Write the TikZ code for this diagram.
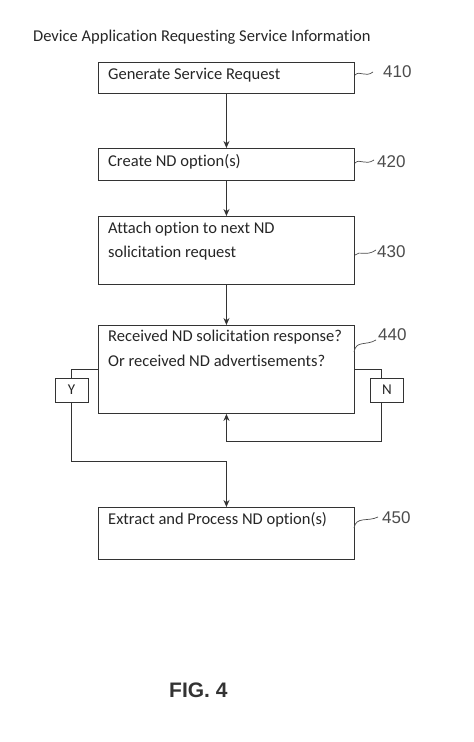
\documentclass[tikz,border=0pt]{standalone}
\usepackage{fontspec}
\setmainfont{Carlito}[RawFeature={-liga}]
\newfontfamily\figfont{Liberation Sans}
\newfontfamily\numfont{Liberation Sans}
\usetikzlibrary{arrows.meta}
\begin{document}
\begin{tikzpicture}[x=1pt,y=-1pt,
  ln/.style={draw=black!80, line width=0.9pt},
  box/.style={ln, rectangle, inner sep=0pt, anchor=north west, minimum width=256pt},
  smallbox/.style={ln, rectangle, inner sep=0pt, minimum width=33pt, minimum height=24pt, font=\fontsize{15}{17}\selectfont, text=black!85},
  txt/.style={anchor=west, inner sep=0pt, font=\fontsize{16.5}{19}\selectfont, text=black!85},
  arr/.style={ln, -{Stealth[length=7pt,width=6pt]}},
  num/.style={anchor=west, inner sep=0pt, font=\numfont\fontsize{17}{19}\selectfont, text=black!70},
  tl/.style={draw=black!70, line width=0.7pt}
]
\useasboundingbox (0,0) rectangle (474,742);
% title
\node[txt] (title) at (33,37) {Device Application Requesting Service Information};
% boxes
\node[box, minimum height=31pt] (b410) at (98,62) {};
\node[box, minimum height=32pt] (b420) at (98,148) {};
\node[box, minimum height=68pt] (b430) at (98,216) {};
\node[box, minimum height=88pt] (b440) at (98,325) {};
\node[box, minimum height=52pt] (b450) at (98,507) {};
% texts
\node[txt] (t410) at (108,75) {Generate Service Request};
\node[txt] (t420) at (108,162) {Create ND option(s)};
\node[txt] (t430a) at (108,229) {Attach option to next ND};
\node[txt] (t430b) at (108,253) {solicitation request};
\node[txt] (t440a) at (108,337) {Received ND solicitation response?};
\node[txt] (t440b) at (108,361) {Or received ND advertisements?};
\node[txt] (t450) at (108,520) {Extract and Process ND option(s)};
% Y / N boxes
\node[smallbox] (ybox) at (71.5,390) {Y};
\node[smallbox] (nbox) at (387,390) {N};
% connectors
\draw[arr] (b410.south) -- (b420.north);
\draw[arr] (b420.south) -- (b430.north);
\draw[arr] (b430.south) -- (b440.north);
\draw[ln] (b440.west) -| (ybox.north);
\coordinate (yc) at (71.5,461);
\draw[arr] (ybox.south) -- (yc) -| (b450.north);
\coordinate (nc) at (381,441);
\draw[ln] (b440.east) -| (nc |- nbox.north);
\draw[arr] (nc |- nbox.south) -- (nc) -| (b440.south);
% reference numerals
\draw[tl] (355,75) .. controls (360,70) and (365,78) .. (373,72);
\node[num] (n410) at (383,72) {410};
\draw[tl] (355,163) .. controls (360,158) and (365,166) .. (374,160);
\node[num] (n420) at (377,162) {420};
\draw[tl] (355,255) .. controls (360,250) and (366,257) .. (376,250);
\node[num] (n430) at (377,252) {430};
\draw[tl] (354,352) .. controls (356,340) and (366,346) .. (376,340);
\node[num] (n440) at (378,335) {440};
\draw[tl] (354,528) .. controls (356,516) and (368,522) .. (378,517);
\node[num] (n450) at (382,518) {450};
% caption
\node[anchor=west, inner sep=0pt, font=\figfont\bfseries\fontsize{21}{24}\selectfont, text=black!80] (fig) at (169,690) {FIG. 4};
\end{tikzpicture}
\end{document}
